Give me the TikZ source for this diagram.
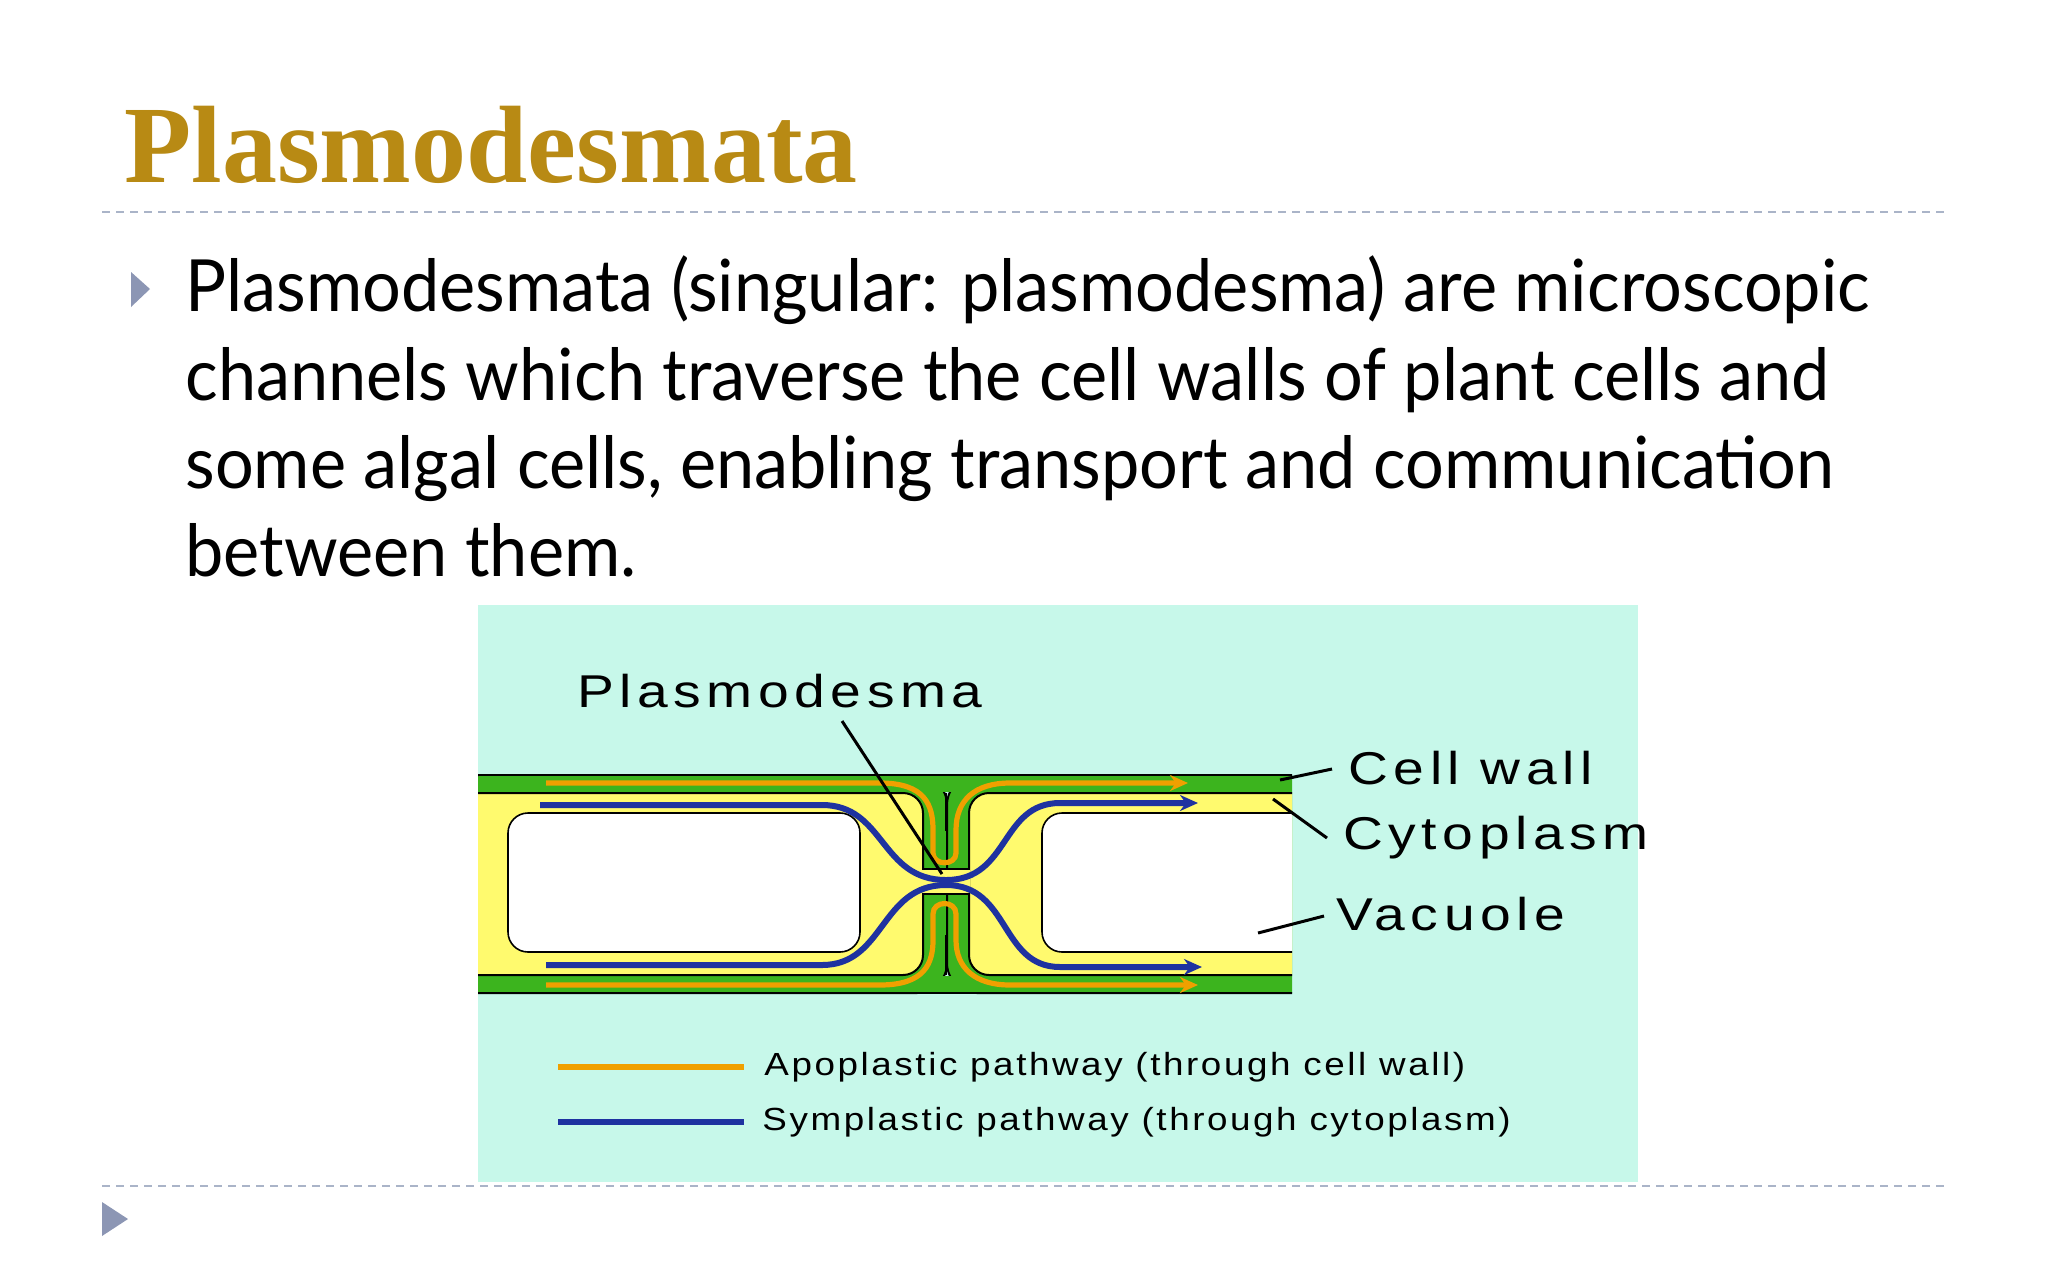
\documentclass[tikz,border=0pt]{standalone}
\usepackage{fontspec}
\setmainfont{Lato}
\newfontfamily\titlefont{Liberation Serif}
\newfontfamily\lblfont[LetterSpace=10]{Liberation Sans}
\newfontfamily\legfont[LetterSpace=7]{Liberation Sans}
\usetikzlibrary{arrows.meta}
\definecolor{gold}{RGB}{184,138,20}
\definecolor{sepcol}{RGB}{170,180,200}
\definecolor{tri}{RGB}{140,150,180}
\definecolor{bgc}{RGB}{199,248,234}
\definecolor{wallg}{RGB}{60,180,30}
\definecolor{cyto}{RGB}{255,250,110}
\definecolor{apo}{RGB}{240,160,0}
\definecolor{sym}{RGB}{30,50,160}
\begin{document}
\begin{tikzpicture}[x=0.5pt,y=-0.5pt,
  sep/.style={draw=sepcol, line width=1pt, dash pattern=on 4pt off 3pt},
  bodytxt/.style={anchor=base west, inner sep=0, font=\fontsize{36}{40}\selectfont, xscale=0.95, transform shape},
  lbl/.style={inner sep=0, font=\lblfont\fontsize{23}{26}\selectfont, xscale=1.2, transform shape},
  leg/.style={anchor=west, inner sep=0, font=\legfont\fontsize{16}{18}\selectfont, xscale=1.15, transform shape},
  ptr/.style={line width=1.5pt},
  apoline/.style={apo, line width=2.6pt, -{Stealth[length=9pt,width=8pt]}},
  symline/.style={sym, line width=3pt, -{Stealth[length=9pt,width=8pt]}}]
\useasboundingbox (0,0) rectangle (2048,1280);
\fill[white] (0,0) rectangle (2048,1280);
% title
\node[anchor=base west, inner sep=0, text=gold, font=\titlefont\bfseries\fontsize{55}{58}\selectfont] (title) at (124,182) {Plasmodesmata};
\draw[sep] (102,212) -- (1946,212);
\draw[sep] (102,1186) -- (1946,1186);
\fill[tri] (131,272) -- (150,289) -- (131,307) -- cycle;
\fill[tri] (102,1202) -- (128,1219) -- (102,1236) -- cycle;
\node[bodytxt] (l1) at (185,311) {Plasmodesmata (singular: plasmodesma) are microscopic};
\node[bodytxt] (l2) at (185,400) {channels which traverse the cell walls of plant cells and};
\node[bodytxt] (l3) at (185,488) {some algal cells, enabling transport and communication};
\node[bodytxt] (l4) at (185,576) {between them.};
% diagram
\fill[bgc] (478,605) rectangle (1638,1182);
\filldraw[fill=wallg, draw=black, line width=1pt, rounded corners=15pt] (478,775) -- (947,775) -- (947,993) -- (478,993);
\filldraw[fill=wallg, draw=black, line width=1pt, rounded corners=15pt] (1292,775) -- (947,775) -- (947,993) -- (1292,993);
\fill[wallg] (479,776) rectangle (1291,792);
\fill[wallg] (479,976) rectangle (1291,992);
\draw[line width=1pt] (478,775) -- (1292,775);
\draw[line width=1pt] (478,993) -- (1292,993);
\filldraw[fill=cyto, draw=black, line width=1pt, rounded corners=10pt] (478,793) -- (923,793) -- (923,975) -- (478,975);
\filldraw[fill=cyto, draw=black, line width=1pt, rounded corners=10pt] (1292,793) -- (969,793) -- (969,975) -- (1292,975);
\fill[cyto] (922,870) rectangle (970,893);
\draw[line width=1pt] (923,869) -- (969,869) (923,894) -- (969,894);
\draw[line width=1pt] (946,793) -- (946,831) (946,935) -- (946,975);
\filldraw[fill=white, draw=black, line width=0.8pt, rounded corners=10pt] (508,813) rectangle (860,952);
\filldraw[fill=white, draw=black, line width=0.8pt, rounded corners=10pt] (1292,813) -- (1042,813) -- (1042,952) -- (1292,952);
\fill[white] (1280,814) rectangle (1292,951);
% pathways
\draw[apoline] (546,783) -- (880,783) .. controls (925,783) and (933,805) .. (933,830) -- (933,853) .. controls (933,866) and (956,866) .. (956,853) -- (956,830) .. controls (956,800) and (975,783) .. (1010,783) -- (1188,783);
\draw[apoline] (546,985) -- (880,985) .. controls (925,985) and (933,963) .. (933,940) -- (933,914) .. controls (933,900) and (956,900) .. (956,914) -- (956,940) .. controls (956,968) and (975,985) .. (1010,985) -- (1198,985);
\draw[symline] (540,805) -- (822,805) .. controls (885,805) and (880,880) .. (946,880) .. controls (1010,880) and (1000,803) .. (1060,803) -- (1198,803);
\draw[symline] (546,965) -- (822,965) .. controls (885,965) and (880,885) .. (946,885) .. controls (1010,885) and (1000,967) .. (1060,967) -- (1202,967);
% labels
\node[lbl, anchor=base west] (pm) at (577,707) {Plasmodesma};
\coordinate (pmtip) at (942,874);
\coordinate (pmst) at (842,721);
\draw[ptr] (pmst) -- (pmtip);
\node[lbl, anchor=west] (cw) at (1348,768) {Cell wall};
\node[lbl, anchor=west] (cy) at (1343,838) {Cytoplasm};
\node[lbl, anchor=west] (va) at (1336,914) {Vacuole};
\coordinate (cwt) at (1280,780);
\coordinate (cyt) at (1273,799);
\coordinate (vat) at (1258,933);
\draw[ptr] (cw.west) ++(-16,1) -- (cwt);
\draw[ptr] (cy.west) ++(-16,0) -- (cyt);
\draw[ptr] (va.west) ++(-12,2) -- (vat);
% legend
\coordinate (oa) at (558,1067); \coordinate (ob) at (744,1067);
\coordinate (ba) at (558,1122); \coordinate (bb) at (744,1122);
\draw[apo, line width=3pt] (oa) -- (ob);
\draw[sym, line width=3pt] (ba) -- (bb);
\node[leg] (t1) at (764,1067) {Apoplastic pathway (through cell wall)};
\node[leg] (t2) at (762,1122) {Symplastic pathway (through cytoplasm)};
\end{tikzpicture}
\end{document}
